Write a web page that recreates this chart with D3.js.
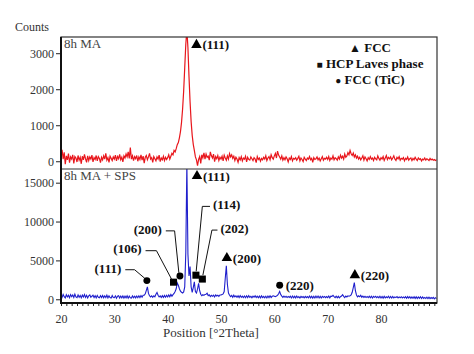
<!DOCTYPE html>
<html>
<head>
<meta charset="utf-8">
<script src="https://cdn.jsdelivr.net/npm/d3@7"></script>
<style>
  body { margin: 0; background: #fff; }
</style>
</head>
<body>
<div id="chart"></div>
<script>
// 2theta sampling of both scans
const thetaStart = 20, thetaStep = 0.2;

// 8h MA (top panel), counts every 0.2 deg from 20.0
const redCounts = [
  180, 320, 60, 250, -80, 150, 40, 210, -40, 120,
  60, 180, -60, 130, 90, -20, 160, 30, 110, -70,
  140, 40, 190, 70, -30, 150, 20, 120, 60, 170,
  -20, 100, 50, 160, 10, 130, 80, -40, 110, 40,
  150, 60, 220, 30, 100, -30, 140, 80, 20, 120,
  60, 170, 10, 130, 70, 190, 40, 110, -20, 150,
  90, 200, 120, 260, 80, 380, 60, 150, 20, 130,
  70, 160, 0, 120, 50, 180, 30, 140, -50, 110,
  160, 40, 120, 220, 60, 100, -30, 130, 70, 10,
  120, 60, 170, -10, 90, 40, 140, 20, 110, 50,
  100, 180, 60, 140, 220, 180, 300, 260, 350, 460,
  520, 650, 820, 1080, 1450, 1950, 2600, 3250, 3650, 3150,
  2350, 1650, 1100, 720, 470, 300, 120, 40, -120, 50,
  130, -60, 180, 90, 230, 60, 200, 110, 140, 30,
  260, 150, 90, 200, -10, 130, 70, 160, 20, 110,
  60, 140, 10, 170, 90, 30, 150, 60, 210, 120,
  180, 80, 140, 20, 110, 60, -30, 100, 40, 130,
  10, 90, 60, 140, -20, 110, 50, 30, 120, 70,
  20, 100, 60, -40, 130, 50, 90, 0, 80, 40,
  110, 60, 150, 20, 90, 130, 40, 180, 100, 60,
  150, 220, 90, 280, 170, 120, 60, 150, 30, 100,
  40, 120, 70, -20, 90, 50, 130, 10, 80, 60,
  100, 30, 80, 140, 10, 90, 50, -10, 110, 60,
  20, 90, 60, 130, 40, 80, -30, 100, 50, 70,
  120, 40, 90, 10, 70, 130, 30, 80, 60, 110,
  50, 130, 20, 90, 60, 150, 40, 100, 70, 30,
  120, 60, 170, 90, 140, 60, 200, 110, 150, 240,
  180, 300, 210, 160, 230, 120, 180, 90, 140, 60,
  110, 40, 90, 150, 30, 120, 70, 10, 100, 50,
  130, 60, 90, 20, 110, 70, 40, 150, 80, 30,
  100, 60, 130, 20, 90, 160, 50, 110, 70, 120,
  40, 90, 150, 60, 20, 110, 70, 130, 30, 80,
  60, 100, 10, 80, 50, 120, 30, 70, 90, 20,
  80, 40, 110, 60, 20, 90, 50, 70, 10, 60,
  40, 90, 30, 70, 50, 20, 80, 40, 60, 30,
  50, 20, 40
];

// 8h MA + SPS (bottom panel), counts every 0.2 deg from 20.0
const blueCounts = [
  550, 250, 620, 330, 180, 580, 300, 520, 200, 600,
  330, 560, 230, 650, 300, 200, 570, 260, 500, 180,
  530, 280, 600, 230, 510, 170, 450, 560, 250, 390,
  520, 230, 470, 170, 500, 260, 200, 460, 220, 490,
  190, 450, 230, 520, 180, 440, 220, 150, 480, 230,
  200, 440, 140, 400, 460, 170, 420, 190, 430, 160,
  400, 180, 450, 140, 410, 200, 160, 430, 190, 400,
  180, 420, 200, 450, 220, 480, 260, 520, 520, 700,
  1150, 1600, 750, 450, 300, 430, 250, 450, 320, 650,
  880, 520, 300, 430, 220, 460, 230, 500, 270, 520,
  300, 560, 320, 620, 400, 600, 750, 1000, 1350, 2100,
  1800, 1350, 1050, 900, 800, 950, 1600, 6000, 17500, 5800,
  3000, 4200, 1600, 900, 1500, 2250, 1000, 800, 1300, 2050,
  1100, 650, 450, 580, 500, 620, 650, 780, 460, 580,
  350, 500, 380, 520, 300, 550, 420, 520, 370, 550,
  550, 600, 700, 1000, 2700, 4300, 1900, 800, 520, 350,
  500, 250, 520, 300, 430, 250, 460, 220, 480, 260,
  410, 230, 430, 200, 450, 220, 480, 240, 370, 200,
  400, 260, 460, 230, 390, 200, 410, 180, 430, 220,
  380, 200, 400, 170, 420, 210, 450, 230, 380, 450,
  400, 330, 420, 500, 700, 1000, 600, 400, 250, 400,
  250, 380, 220, 360, 230, 390, 170, 410, 190, 380,
  180, 420, 200, 340, 160, 370, 230, 350, 190, 360,
  200, 340, 180, 420, 180, 390, 150, 380, 170, 400,
  190, 410, 170, 390, 160, 380, 230, 360, 200, 350,
  200, 420, 180, 400, 380, 500, 350, 210, 400, 190,
  380, 180, 330, 420, 580, 380, 220, 420, 300, 450,
  400, 450, 550, 900, 1500, 2150, 1100, 550, 300, 450,
  320, 520, 260, 400, 240, 380, 220, 360, 200, 400,
  200, 400, 170, 370, 250, 380, 200, 340, 180, 390,
  170, 370, 150, 380, 180, 320, 200, 390, 160, 350,
  150, 360, 170, 310, 210, 340, 180, 300, 190, 330,
  180, 300, 170, 330, 120, 340, 140, 320, 120, 310,
  130, 330, 110, 310, 100, 300, 120, 320, 90, 290,
  110, 240, 100, 260, 80, 280, 90, 220, 110, 240,
  60, 200, 70
];

const topTicks = [0, 1000, 2000, 3000];
const bottomTicks = [0, 5000, 10000, 15000];
const xLabels = [20, 30, 40, 50, 60, 70, 80];

// phase markers: [2theta, counts, label]
const fccTop = [[45.4, 3230, "(111)"]];
const fccMarks = [[45.5, 15850, "(111)"], [51.1, 5300, "(200)"], [75.1, 3100, "(220)"]];
const hcpMarks = [[41.1, 2200], [45.3, 3100], [46.5, 2600]];
const ticMarks = [[36.1, 2400], [42.3, 3000], [61.0, 1800, "(220)"]];

// callouts with leader lines: text anchor, elbow, marker end (2theta, counts)
const callouts = [
  { text: "(111)", anchor: "end",   tx: 31.3, ty: 3400,  ex: 33.8, ey: 3800, mx: 35.7, my: 2700 },
  { text: "(106)", anchor: "end",   tx: 35.1, ty: 5900,  ex: 37.9, ey: 6250, mx: 40.8, my: 2500 },
  { text: "(200)", anchor: "end",   tx: 38.9, ty: 8450,  ex: 41.3, ey: 8800, mx: 42.1, my: 3400 },
  { text: "(114)", anchor: "start", tx: 48.5, ty: 11600, ex: 46.5, ey: 11950, mx: 45.35, my: 3600 },
  { text: "(202)", anchor: "start", tx: 49.9, ty: 8550,  ex: 48.3, ey: 8900, mx: 46.6, my: 3100 }
];

const legendRows = [["\u25B2", "FCC"], ["\u25A0", "HCP Laves phase"], ["\u25CF", "FCC (TiC)"]];

const W = 474, H = 354;
const plotL = 61, plotR = 437, plotT = 37, plotMid = 169, plotB = 303;
const serif = "'Liberation Serif', 'Times New Roman', 'DejaVu Serif', serif";

const svg = d3.select("#chart").append("svg")
  .attr("width", W)
  .attr("height", H)
  .attr("font-family", serif);

const x = d3.scaleLinear().domain([20, 90.5]).range([plotL, plotR]);
const yTop = d3.scaleLinear().domain([-215, 3450]).range([plotMid, plotT]);
const yBot = d3.scaleLinear().domain([-480, 16760]).range([plotB, plotMid]);

// clip regions for the two panels
const defs = svg.append("defs");
defs.append("clipPath").attr("id", "clipTop").append("rect")
  .attr("x", plotL).attr("y", plotT).attr("width", plotR - plotL).attr("height", plotMid - plotT);
defs.append("clipPath").attr("id", "clipBot").append("rect")
  .attr("x", plotL).attr("y", plotMid).attr("width", plotR - plotL).attr("height", plotB - plotMid);

const theta = i => thetaStart + i * thetaStep;

svg.append("path")
  .datum(redCounts)
  .attr("clip-path", "url(#clipTop)")
  .attr("fill", "none")
  .attr("stroke", "#e8161c")
  .attr("stroke-width", 1.2)
  .attr("d", d3.line().x((d, i) => x(theta(i))).y(d => yTop(d)));

svg.append("path")
  .datum(blueCounts)
  .attr("clip-path", "url(#clipBot)")
  .attr("fill", "none")
  .attr("stroke", "#1f1fcc")
  .attr("stroke-width", 1.1)
  .attr("d", d3.line().x((d, i) => x(theta(i))).y(d => yBot(d)));

// frame
svg.append("rect")
  .attr("x", plotL).attr("y", plotT)
  .attr("width", plotR - plotL).attr("height", plotB - plotT)
  .attr("fill", "none").attr("stroke", "#333").attr("stroke-width", 1.2);
svg.append("line")
  .attr("x1", plotL).attr("x2", plotR).attr("y1", plotMid).attr("y2", plotMid)
  .attr("stroke", "#333").attr("stroke-width", 1.2);

// axes
function styleAxis(g) {
  g.attr("font-family", serif).attr("font-size", 12);
  g.select(".domain").remove();
  g.selectAll(".tick line").attr("stroke", "#222");
  g.selectAll(".tick text").attr("fill", "#333");
}

svg.append("g")
  .attr("transform", `translate(${plotL},0)`)
  .call(d3.axisLeft(yTop).tickValues(topTicks).tickSize(5).tickPadding(2).tickFormat(d3.format("d")))
  .call(styleAxis);

svg.append("g")
  .attr("transform", `translate(${plotL},0)`)
  .call(d3.axisLeft(yBot).tickValues(bottomTicks).tickSize(5).tickPadding(2).tickFormat(d3.format("d")))
  .call(styleAxis);

svg.append("g")
  .attr("transform", `translate(0,${plotB})`)
  .call(d3.axisBottom(x).tickValues(d3.range(20, 91, 1)).tickSize(3).tickPadding(8)
    .tickFormat(d => xLabels.includes(d) ? d : ""))
  .call(styleAxis);

// heavier left and bottom axis lines
svg.append("line").attr("x1", plotL).attr("x2", plotL).attr("y1", plotT).attr("y2", plotB + 1)
  .attr("stroke", "#111").attr("stroke-width", 2);
svg.append("line").attr("x1", plotL).attr("x2", plotR).attr("y1", plotB).attr("y2", plotB)
  .attr("stroke", "#111").attr("stroke-width", 2);

// axis titles
svg.append("text")
  .attr("x", 15).attr("y", 31)
  .attr("fill", "#333")
  .attr("font-size", 12)
  .text("Counts");

svg.append("text")
  .attr("x", 211).attr("y", 337)
  .attr("text-anchor", "middle")
  .attr("fill", "#333")
  .attr("font-size", 13)
  .text("Position [°2Theta]");

// panel labels
svg.append("text").attr("x", 64).attr("y", 48)
  .attr("fill", "#444").attr("font-size", 13).text("8h MA");
svg.append("text").attr("x", 64).attr("y", 180)
  .attr("fill", "#444").attr("font-size", 13).text("8h MA + SPS");

// markers
const tri = d3.symbol().type(d3.symbolTriangle).size(48);
const sq = d3.symbol().type(d3.symbolSquare).size(50);
const circ = d3.symbol().type(d3.symbolCircle).size(38);

function drawMarks(data, yScale, sym, withLabel) {
  const g = svg.append("g");
  g.selectAll("path")
    .data(data)
    .join("path")
    .attr("transform", d => `translate(${x(d[0])},${yScale(d[1])})`)
    .attr("d", sym)
    .attr("fill", "#000");
  if (withLabel) {
    g.selectAll("text")
      .data(data.filter(d => d[2]))
      .join("text")
      .attr("x", d => x(d[0]) + 6)
      .attr("y", d => yScale(d[1]) + 4.5)
      .attr("font-weight", "bold")
      .attr("font-size", 13)
      .attr("fill", "#111")
      .text(d => d[2]);
  }
}

drawMarks(fccTop, yTop, tri, true);
drawMarks(fccMarks, yBot, tri, true);
drawMarks(hcpMarks, yBot, sq, false);
drawMarks(ticMarks, yBot, circ, true);

// callouts with leader lines
const cg = svg.append("g");
callouts.forEach(c => {
  cg.append("polyline")
    .attr("points", [
      [x(c.tx) + (c.anchor === "end" ? 4 : -3), yBot(c.ey)],
      [x(c.ex), yBot(c.ey)],
      [x(c.mx), yBot(c.my)]
    ].map(p => p.join(",")).join(" "))
    .attr("fill", "none")
    .attr("stroke", "#111")
    .attr("stroke-width", 1);
  cg.append("text")
    .attr("x", x(c.tx))
    .attr("y", yBot(c.ty))
    .attr("text-anchor", c.anchor)
    .attr("font-weight", "bold")
    .attr("font-size", 13)
    .attr("fill", "#111")
    .text(c.text);
});

// legend
const lg = svg.append("g");
legendRows.forEach((r, i) => {
  const t = lg.append("text")
    .attr("x", 370)
    .attr("y", 52 + i * 16)
    .attr("text-anchor", "middle")
    .attr("font-weight", "bold")
    .attr("font-size", 13)
    .attr("fill", "#111");
  t.append("tspan").attr("font-size", i === 0 ? 12 : 10).text(r[0]);
  t.append("tspan").text(" " + r[1]);
});
</script>
</body>
</html>
